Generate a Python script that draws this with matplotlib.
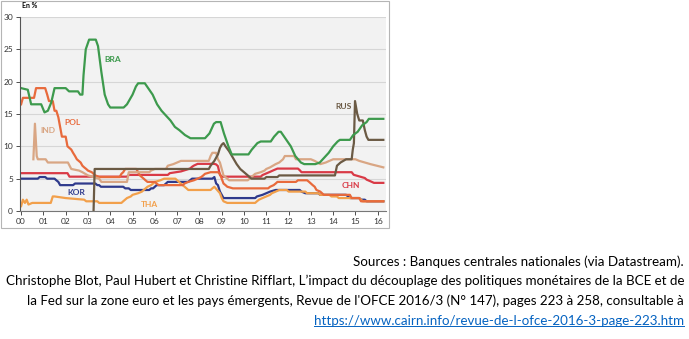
import matplotlib
matplotlib.use("Agg")
import matplotlib.pyplot as plt
from matplotlib.patches import Rectangle
from matplotlib.lines import Line2D

plt.rcParams['font.family'] = ['Lato', 'DejaVu Sans']

# years after 2000, rate in %
bra_t = [0.0, 0.3, 0.45, 0.9, 1.05, 1.2, 1.35, 1.5, 2.0, 2.15, 2.55, 2.65, 2.75, 2.8, 2.9, 3.05, 3.35, 3.45,
         3.6, 3.75, 3.9, 4.0, 4.6, 4.75, 5.0, 5.15, 5.25, 5.55, 5.7, 5.9, 6.1, 6.3, 6.5, 6.7, 6.9, 7.1, 7.35,
         7.6, 8.25, 8.45, 8.65, 8.75, 8.95, 9.1, 9.3, 9.45, 10.2, 10.35, 10.6, 10.75, 11.2, 11.35, 11.55,
         11.65, 11.9, 12.1, 12.3, 12.55, 12.7, 13.2, 13.4, 13.6, 13.8, 14.0, 14.2, 14.3, 14.75, 14.9, 15.1,
         15.3, 15.5, 15.6, 16.25]
bra_v = [19.0, 18.75, 16.5, 16.5, 15.25, 15.5, 16.75, 19.0, 19.0, 18.5, 18.5, 18.0, 18.0, 21.0, 25.0, 26.5,
         26.5, 25.5, 21.5, 18.0, 16.5, 16.0, 16.0, 16.5, 18.0, 19.25, 19.75, 19.75, 19.0, 18.0, 16.5, 15.5,
         14.75, 14.0, 13.0, 12.5, 11.75, 11.25, 11.25, 12.0, 13.5, 13.75, 13.75, 12.0, 10.0, 8.75, 8.75, 9.5,
         10.5, 10.75, 10.75, 11.5, 12.25, 12.25, 11.0, 10.0, 8.5, 7.5, 7.25, 7.25, 7.5, 8.25, 9.0, 10.0, 10.75,
         11.0, 11.0, 11.75, 12.25, 13.25, 13.75, 14.25, 14.25]

rus_t = [3.25, 3.3, 8.42, 8.5, 8.67, 8.83, 8.92, 9.0, 9.08, 9.17, 9.33, 9.5, 9.67, 9.83, 10.0, 10.17, 10.33,
         10.92, 11.0, 11.5, 11.58, 14.08, 14.17, 14.33, 14.58, 14.83, 14.88, 14.93, 14.98, 15.08, 15.17, 15.33,
         15.42, 15.5, 15.58, 16.25]
rus_v = [0.0, 6.5, 6.5, 7.0, 7.75, 8.75, 9.75, 10.25, 10.5, 10.0, 9.25, 8.25, 7.25, 6.5, 6.0, 5.5, 5.0, 5.0,
         5.25, 5.25, 5.5, 5.5, 7.0, 7.5, 8.0, 8.0, 9.5, 10.5, 17.0, 15.0, 14.0, 14.0, 12.5, 11.5, 11.0, 11.0]

pol_t = [0.0, 0.08, 0.58, 0.67, 1.08, 1.17, 1.25, 1.42, 1.5, 1.58, 1.67, 1.75, 1.83, 2.0, 2.08, 2.25, 2.33,
         2.42, 2.5, 2.67, 2.75, 2.83, 2.92, 3.0, 3.17, 3.25, 3.33, 3.5, 4.42, 4.5, 4.58, 4.67, 5.17, 5.25, 5.33,
         5.5, 5.58, 5.67, 6.0, 6.08, 6.17, 7.25, 7.33, 7.5, 7.75, 7.92, 8.08, 8.17, 8.25, 8.5, 8.83, 8.92, 9.0,
         9.08, 9.17, 9.25, 9.5, 11.08, 11.17, 11.33, 11.42, 11.5, 12.33, 12.42, 12.83, 12.92, 13.0, 13.08,
         13.17, 13.25, 13.42, 13.5, 13.58, 14.75, 14.83, 15.17, 15.25, 16.25]
pol_v = [16.5, 17.5, 17.5, 19.0, 19.0, 18.0, 17.0, 17.0, 15.5, 15.5, 14.5, 13.0, 11.5, 11.5, 10.0, 9.5, 9.0,
         8.5, 8.0, 7.5, 7.0, 6.75, 6.5, 6.25, 6.0, 5.75, 5.5, 5.25, 5.25, 5.75, 6.0, 6.5, 6.5, 6.0, 5.5, 5.0,
         4.75, 4.5, 4.5, 4.25, 4.0, 4.0, 4.25, 4.5, 4.75, 5.0, 5.25, 5.5, 5.75, 6.0, 6.0, 5.75, 5.0, 4.25, 4.0,
         3.75, 3.5, 3.5, 3.75, 4.0, 4.25, 4.5, 4.5, 4.75, 4.75, 4.5, 4.25, 4.0, 3.75, 3.25, 3.0, 2.75, 2.5,
         2.5, 2.0, 2.0, 1.5, 1.5]

ind_t = [0.55, 0.62, 0.7, 0.75, 1.1, 1.2, 2.1, 2.25, 2.6, 2.75, 3.0, 3.25, 3.5, 3.6, 4.75, 4.83, 5.75, 5.83,
         6.0, 6.5, 6.58, 6.83, 7.0, 7.17, 8.42, 8.5, 8.58, 8.75, 8.83, 8.92, 9.0, 9.08, 9.25, 9.33, 10.17,
         10.33, 10.5, 10.75, 10.92, 11.0, 11.17, 11.42, 11.58, 11.75, 11.83, 12.25, 12.33, 13.0, 13.17,
         13.42, 13.67, 13.83, 14.0, 15.0, 15.17, 15.42, 15.67, 16.25]
ind_v = [8.0, 13.5, 8.5, 8.0, 8.0, 7.5, 7.5, 6.5, 6.25, 6.0, 5.5, 5.25, 5.0, 4.5, 4.5, 6.0, 6.0, 6.25,
         6.5, 6.5, 7.0, 7.25, 7.5, 7.75, 7.75, 8.5, 9.0, 9.0, 8.0, 7.5, 6.5, 5.5, 5.0, 4.75, 4.75,
         5.25, 5.75, 6.0, 6.25, 6.5, 6.75, 7.25, 7.5, 8.0, 8.5, 8.5, 8.0, 8.0, 7.75, 7.25, 7.5, 7.75, 8.0,
         8.0, 7.75, 7.5, 7.25, 6.75]

chn_t = [0.0, 2.08, 2.17, 4.75, 4.83, 6.58, 6.67, 7.17, 7.42, 7.58, 7.67, 7.75, 7.92, 8.67, 8.75, 8.83, 8.92,
         9.0, 10.75, 10.83, 11.0, 11.17, 11.33, 11.5, 12.42, 12.5, 12.58, 14.83, 14.92, 15.17, 15.42, 15.5,
         15.67, 15.83, 16.25]
chn_v = [5.85, 5.85, 5.31, 5.31, 5.58, 5.58, 5.85, 6.12, 6.39, 6.57, 6.84, 7.02, 7.29, 7.29, 7.2, 6.93, 5.58,
         5.31, 5.31, 5.56, 5.81, 6.06, 6.31, 6.56, 6.56, 6.31, 6.0, 6.0, 5.6, 5.35, 5.1, 4.85, 4.6, 4.35, 4.35]

kor_t = [0.0, 0.75, 0.83, 1.08, 1.17, 1.5, 1.58, 1.67, 1.75, 2.33, 2.42, 3.33, 3.42, 3.5, 3.58, 4.58, 4.67,
         4.83, 4.92, 5.75, 5.83, 5.92, 6.0, 6.08, 6.42, 6.5, 6.58, 7.5, 7.58, 7.67, 8.58, 8.67, 8.75, 8.83,
         8.92, 9.0, 9.08, 10.5, 10.58, 10.83, 11.0, 11.17, 11.42, 12.5, 12.58, 12.75, 13.33, 13.42, 14.58,
         14.67, 14.75, 15.17, 15.25, 15.42, 15.5, 16.25]
kor_v = [5.0, 5.0, 5.25, 5.25, 5.0, 5.0, 4.75, 4.5, 4.0, 4.0, 4.25, 4.25, 4.0, 4.0, 3.75, 3.75, 3.5, 3.5,
         3.25, 3.25, 3.5, 3.5, 3.75, 4.0, 4.0, 4.25, 4.5, 4.5, 4.75, 5.0, 5.0, 5.25, 4.25, 4.0, 3.0, 2.5,
         2.0, 2.0, 2.25, 2.5, 2.75, 3.0, 3.25, 3.25, 3.0, 2.75, 2.75, 2.5, 2.5, 2.25, 2.0, 2.0, 1.75, 1.75,
         1.5, 1.5]

tha_t = [0.0, 0.08, 0.17, 0.25, 0.33, 0.5, 1.33, 1.42, 1.5, 2.0, 2.83, 2.92, 3.42, 3.5, 4.5, 4.58, 4.75,
         4.92, 5.0, 5.25, 5.42, 5.5, 5.67, 5.83, 5.92, 6.0, 6.25, 6.42, 6.92, 7.0, 7.08, 7.25, 7.42, 7.5, 8.5,
         8.58, 8.67, 8.92, 9.0, 9.08, 9.25, 10.5, 10.58, 10.67, 10.83, 11.0, 11.17, 11.25, 11.42, 11.58,
         11.92, 12.0, 12.75, 12.83, 13.33, 13.42, 13.83, 13.92, 14.17, 14.25, 15.17, 15.25, 15.33, 16.25]
tha_v = [0.75, 1.75, 1.25, 1.75, 1.0, 1.25, 1.25, 2.25, 2.25, 2.0, 1.75, 1.5, 1.5, 1.25, 1.25, 1.5, 2.0,
         2.25, 2.5, 2.75, 3.0, 3.25, 3.75, 4.0, 4.25, 4.5, 4.75, 5.0, 5.0, 4.75, 4.5, 4.0, 3.5, 3.25, 3.25,
         3.5, 3.75, 2.75, 2.0, 1.5, 1.25, 1.25, 1.5, 1.75, 2.0, 2.25, 2.5, 2.75, 3.0, 3.25, 3.25, 3.0, 3.0,
         2.75, 2.75, 2.5, 2.5, 2.25, 2.25, 2.0, 2.0, 1.75, 1.5, 1.5]

series = [
    (kor_t, kor_v, '#2f3a8c', 'KOR', 2.47, 2.85),
    (tha_t, tha_v, '#f2a04b', 'THA', 5.78, 1.0),
    (chn_t, chn_v, '#d93a46', 'CHN', 14.8, 3.9),
    (pol_t, pol_v, '#e86a3c', 'POL', 2.3, 13.75),
    (ind_t, ind_v, '#d9a684', 'IND', 1.2, 12.4),
    (rus_t, rus_v, '#6b5a44', 'RUS', 14.45, 16.1),
    (bra_t, bra_v, '#3d9a4d', 'BRA', 4.1, 23.4),
]
year_labels = ['%02d' % y for y in range(0, 17)]

W, H = 689, 339
fig = plt.figure(figsize=(W / 100, H / 100), dpi=100)
ax = fig.add_axes([20 / W, 1 - 211 / H, 366 / W, 194 / H])
ax.set_facecolor('#f2f2f2')

for t, v, c, name, lx, ly in series:
    ax.plot(t, v, color=c, lw=1.6, solid_joinstyle='round')
    ax.text(lx, ly, name, color=c, fontsize=6, fontweight='bold', ha='center', va='center')

ax.set_xlim(-0.05, 16.37)
ax.set_ylim(0, 30)
ax.set_xticks(range(0, 17))
ax.set_xticklabels(year_labels)
ax.set_yticks(range(0, 31, 5))
ax.yaxis.grid(True, color='#d6d6d6', lw=0.8)
ax.set_axisbelow(True)
for s in ['top', 'right']:
    ax.spines[s].set_visible(False)
ax.spines['left'].set_color('#555555')
ax.spines['bottom'].set_color('#777777')
ax.spines['left'].set_linewidth(0.8)
ax.spines['bottom'].set_linewidth(0.8)
ax.tick_params(labelsize=6, colors='#333333', length=3, width=0.6, pad=2)

fig.text(22 / W, 1 - 5 / H, 'En %', fontsize=5, fontweight='bold', va='center', ha='left')
fig.add_artist(Rectangle((0.5 / W, 1 - 228 / H), 388 / W, 227.5 / H, transform=fig.transFigure,
                         fill=False, ec='#b5b5b5', lw=0.8))

fs = 9.6
fig.text(684 / W, 1 - 262 / H, 'Sources\u00a0: Banques centrales nationales (via Datastream).',
         ha='right', va='center', fontsize=fs)
fig.text(684 / W, 1 - 281 / H, "Christophe Blot, Paul Hubert et Christine Rifflart, L\u2019impact du découplage des politiques monétaires de la BCE et de",
         ha='right', va='center', fontsize=fs)
fig.text(684 / W, 1 - 301 / H, "la Fed sur la zone euro et les pays émergents, Revue de l'OFCE 2016/3 (N°\u00a0147), pages 223 à 258, consultable à",
         ha='right', va='center', fontsize=fs)
url = fig.text(684 / W, 1 - 321 / H, 'https://www.cairn.info/revue-de-l-ofce-2016-3-page-223.htm',
               ha='right', va='center', fontsize=fs, color='#0563c1')

fig.canvas.draw()
bb = url.get_window_extent()
fig.add_artist(Line2D([bb.x0 / W, bb.x1 / W], [(bb.y0 + 1) / H, (bb.y0 + 1) / H],
                      transform=fig.transFigure, color='#0563c1', lw=0.7))

fig.savefig('out.png', dpi=100)
